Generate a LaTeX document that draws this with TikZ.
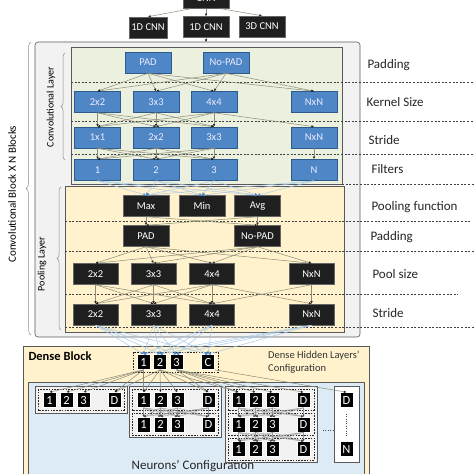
\documentclass[tikz,border=0pt]{standalone}
\usepackage{fontspec}
\setmainfont{Carlito}
\usetikzlibrary{arrows.meta,decorations.pathreplacing}
\definecolor{greenF}{HTML}{EBF1DE}
\definecolor{yellowF}{HTML}{FFF2CC}
\definecolor{grayF}{HTML}{F2F2F2}
\definecolor{lblueF}{HTML}{DDEBF7}
\definecolor{blueF}{HTML}{4F86C6}
\definecolor{blueD}{HTML}{2E5A8C}
\definecolor{lineC}{HTML}{8C8C78}
\definecolor{lblueL}{HTML}{A9CBEA}
\definecolor{blueA}{HTML}{4A86C8}
\definecolor{boxD}{HTML}{595959}
\begin{document}
\begin{tikzpicture}[x=1pt,y=-1pt,
  bluebox/.style={fill=blueF,draw=blueD,line width=0.6pt,text=white!92!blue,minimum width=46pt,minimum height=21pt,inner sep=0pt,font=\fontsize{10.5}{12}\selectfont},
  blackbox/.style={fill=black!88,draw=black!60,line width=0.5pt,text=white,minimum width=46pt,minimum height=21pt,inner sep=0pt,font=\fontsize{10.5}{12}\selectfont},
  sq/.style={fill=black,draw=white,line width=0.6pt,text=white,minimum width=13pt,minimum height=15pt,inner sep=0pt,font=\fontsize{12.5}{13}\selectfont},
  conn/.style={draw=lineC,line width=0.5pt,-{Latex[length=2.6pt,width=2.6pt,color=black!85]}},
  bconn/.style={draw=lblueL,line width=0.5pt,-{Latex[length=2.6pt,width=3pt,color=blueA]}},
  gconn/.style={draw=black!40,line width=0.4pt,-{Latex[length=2.2pt,width=2.2pt,color=black!70]}},
  dline/.style={draw=black!75,line width=0.6pt,dash pattern=on 2pt off 1.6pt},
  rlab/.style={anchor=west,font=\fontsize{13}{15}\selectfont,text=black!85},
  brc/.style={draw=black!45,line width=0.5pt,decorate},
  dashbox/.style={draw=black!85,line width=0.6pt,dash pattern=on 1.6pt off 1.2pt},
  outbox/.style={draw=boxD,line width=0.6pt}
]
\clip (0,0) rectangle (474,474);
\fill[white] (0,0) rectangle (474,474);

% ---------- backgrounds ----------
\draw[outbox,fill=grayF,rounded corners=3pt] (35,42) rectangle (360,337);
\draw[outbox,fill=greenF] (71,47) rectangle (342,184);
\draw[outbox,fill=yellowF] (65,186) rectangle (344,332);
\draw[outbox,fill=yellowF] (23,346) rectangle (369,480);
\draw[outbox,fill=lblueF] (28,382) rectangle (364,480);

% ---------- dashed separators ----------
\draw[dline] (71,82) -- (474,82);
\draw[dline] (71,121) -- (474,121);
\draw[dline] (71,154) -- (474,154);
\draw[dline] (342,184) -- (474,184);
\draw[dline] (65,221) -- (470,221);
\draw[dline] (65,251) -- (474,251);
\draw[dline] (65,294) -- (458,294);
\draw[dline] (65,327) -- (474,327);

% ---------- braces and side labels ----------
\draw[brc,decoration={brace,amplitude=5pt}] (31,335) -- (31,42);
\node[rotate=90,font=\fontsize{11}{13}\selectfont] (lblock) at (12,194) {Convolutional Block X N Blocks};
\draw[brc,decoration={brace,amplitude=4pt}] (65,160) -- (65,53);
\node[rotate=90,font=\fontsize{10}{12}\selectfont] (lconv) at (51,107) {Convolutional Layer};
\draw[brc,decoration={brace,amplitude=4pt}] (61,330) -- (61,187);
\node[rotate=90,font=\fontsize{10}{12}\selectfont] (lpool) at (42,264) {Pooling Layer};

\node[rlab] (r1) at (364,65) {Padding};
\node[rlab] (r2) at (363,102) {Kernel Size};
\node[rlab] (r3) at (365,140) {Stride};
\node[rlab] (r4) at (368,169) {Filters};
\node[rlab] (r5) at (368,207) {Pooling function};
\node[rlab] (r6) at (367,237) {Padding};
\node[rlab] (r7) at (369,274) {Pool size};
\node[rlab] (r8) at (369,313) {Stride};

% ---------- CNN selection ----------
\node[blackbox] (cnn) at (206,-2) {CNN};
\node[blackbox,minimum width=38pt] (c1) at (148,27.5) {1D CNN};
\node[blackbox] (c2) at (206,27) {1D CNN};
\node[blackbox] (c3) at (262,26.5) {3D CNN};
\draw[conn] (cnn.south west) ++(8,0) coordinate (cnnA) -- (c1.north);
\draw[conn] (cnn.south) -- (c2.north);
\draw[conn] (cnn.south east) ++(-8,0) coordinate (cnnB) -- (c3.north);
\coordinate (blocktop) at (206,42);
\draw[conn] (c2.south) -- (blocktop);

% ---------- convolutional layer ----------
\node[bluebox] (cpad) at (148,62.5) {PAD};
\node[bluebox] (cnopad) at (226,62.5) {No-PAD};
\node[bluebox] (k1) at (97.5,102) {2x2};
\node[bluebox] (k2) at (156,102) {3x3};
\node[bluebox] (k3) at (214,102) {4x4};
\node[bluebox] (k4) at (314,102) {NxN};
\node[bluebox] (s1) at (97.5,137.5) {1x1};
\node[bluebox] (s2) at (156,137.5) {2x2};
\node[bluebox] (s3) at (214,137.5) {3x3};
\node[bluebox] (s4) at (314,137.5) {NxN};
\node[bluebox] (f1) at (97.5,170) {1};
\node[bluebox] (f2) at (156,170) {2};
\node[bluebox] (f3) at (214,170) {3};
\node[bluebox] (f4) at (314,170) {N};

\foreach \s in {cpad,cnopad}{\foreach \t in {k1,k2,k3,k4}{\draw[conn] (\s.south) -- (\t.north);}}
\foreach \s in {k1,k2,k3}{\foreach \t in {s1,s2,s3}{\draw[conn] (\s.south) -- (\t.north);}}
\draw[conn] (k3.south) -- (s4.north);
\foreach \s in {s1,s2,s3}{\foreach \t in {f1,f2,f3}{\draw[conn] (\s.south) -- (\t.north);}}
\draw[conn] (s4.south) -- (f4.north);

% ---------- pooling layer ----------
\node[blackbox] (pmax) at (146,206) {Max};
\node[blackbox] (pmin) at (202,206) {Min};
\node[blackbox] (pavg) at (257.5,206) {Avg};
\node[blackbox] (ppad) at (146,236) {PAD};
\node[blackbox] (pnopad) at (257.5,236) {No-PAD};
\node[blackbox,minimum width=45pt] (q1) at (95.5,274) {2x2};
\node[blackbox,minimum width=45pt] (q2) at (153.5,274) {3x3};
\node[blackbox,minimum width=45pt] (q3) at (212,274) {4x4};
\node[blackbox,minimum width=45pt] (q4) at (311.5,274) {NxN};
\node[blackbox,minimum width=45pt] (t1) at (95.5,314.5) {2x2};
\node[blackbox,minimum width=45pt] (t2) at (153.5,314.5) {3x3};
\node[blackbox,minimum width=45pt] (t3) at (212,314.5) {4x4};
\node[blackbox,minimum width=45pt] (t4) at (311.5,314.5) {NxN};

\foreach \s in {f1,f2,f3,f4}{\foreach \t in {pmax,pmin,pavg}{\draw[bconn] (\s.south) -- (\t.north);}}
\foreach \s in {pmax,pavg}{\foreach \t in {ppad,pnopad}{\draw[conn] (\s.south) -- (\t.north);}}
\foreach \s in {ppad,pnopad}{\foreach \t in {q1,q2,q3,q4}{\draw[conn] (\s.south) -- (\t.north);}}
\foreach \s in {q1,q2,q3}{\foreach \t in {t1,t2,t3}{\draw[conn] (\s.south) -- (\t.north);}}
\draw[conn] (q3.south) -- (t4.north);
\draw[conn] (q4.south) -- (t3.north);
\draw[conn] (q4.south) -- (t4.north);

% ---------- dense block ----------
\node[anchor=west,font=\bfseries\fontsize{12.5}{14}\selectfont] (dbl) at (25,356) {Dense Block};
\node[anchor=north west,align=left,font=\fontsize{10.5}{12.5}\selectfont,text=black!80,inner sep=0pt] (dhl) at (268,351) {Dense Hidden Layers'\\Configuration};
\node[font=\fontsize{13}{15}\selectfont,text=black!85,inner sep=1pt] (ncf) at (193,466) {Neurons' Configuration};

\draw[dashbox] (133,352) rectangle (218,372);
\node[sq] (d1) at (143.5,362) {1};
\node[sq] (d2) at (160,362) {2};
\node[sq] (d3) at (176.5,362) {3};
\node[sq] (dC) at (208,362) {C};

% group A
\draw[outbox,fill=grayF] (35,386) rectangle (127,413);
\draw[dashbox] (38,389) rectangle (124,410);
\foreach \x/\l/\n in {49.5/1/1,66.5/2/2,83.5/3/3,114.5/D/4}{\node[sq] (a1\n) at (\x,400) {\l};}
% group B
\draw[outbox,fill=grayF] (129,386) rectangle (221,437);
\draw[dashbox] (132,389) rectangle (218,410);
\draw[dashbox] (132,413) rectangle (218,435);
\foreach \x/\l/\n in {143.5/1/1,160.5/2/2,177.5/3/3,208.5/D/4}{
  \node[sq] (b1\n) at (\x,400) {\l};
  \node[sq] (b2\n) at (\x,424.5) {\l};}
% group C
\draw[outbox,fill=grayF] (225,386) rectangle (317,462);
\draw[dashbox] (228,389) rectangle (314,410);
\draw[dashbox] (228,413) rectangle (314,435);
\draw[dashbox] (228,438) rectangle (314,460);
\foreach \x/\l/\n in {238.5/1/1,255.5/2/2,272.5/3/3,303.5/D/4}{
  \node[sq] (c1\n) at (\x,400) {\l};
  \node[sq] (c2\n) at (\x,424.5) {\l};
  \node[sq] (c3\n) at (\x,449) {\l};}
% group D
\draw[outbox,fill=white] (334,386) rectangle (359,462);
\node[sq] (e1) at (346.5,400) {D};
\node[sq] (e2) at (346.5,449) {N};
\draw[black!70,line width=0.8pt,dash pattern=on 0.8pt off 1.6pt] (e1.south) ++(0,6) coordinate (ev1) -- ++(0,22) coordinate (ev2);
\coordinate (eh1) at (323,430);
\coordinate (eh2) at (333,430);
\draw[black!70,line width=0.8pt,dash pattern=on 0.8pt off 1.6pt] (eh1) -- (eh2);

% connectors into dense block
\foreach \s in {t1,t2,t3,t4}{\foreach \t in {d1,d2,d3,dC}{\draw[bconn] (\s.south) -- (\t.north);}}
% dense block to neuron groups
\foreach \t in {a11,a12,a13,a14,b11}{\draw[conn] (d1.south) -- (\t.north);}
\foreach \t in {a14,b11,b12,b13,b14,c11}{\draw[conn] (d2.south) -- (\t.north);}
\foreach \t in {b14,c11,c12,c13,c14}{\draw[conn] (d3.south) -- (\t.north);}
\draw[conn] (dC.south east) -- (e1.north);
% inside groups
\foreach \s in {1,2,3,4}{\foreach \t in {1,2,3,4}{
  \draw[gconn] (b1\s.south) -- (b2\t.north);
  \draw[gconn] (c1\s.south) -- (c2\t.north);
  \draw[gconn] (c2\s.south) -- (c3\t.north);}}
\end{tikzpicture}
\end{document}
